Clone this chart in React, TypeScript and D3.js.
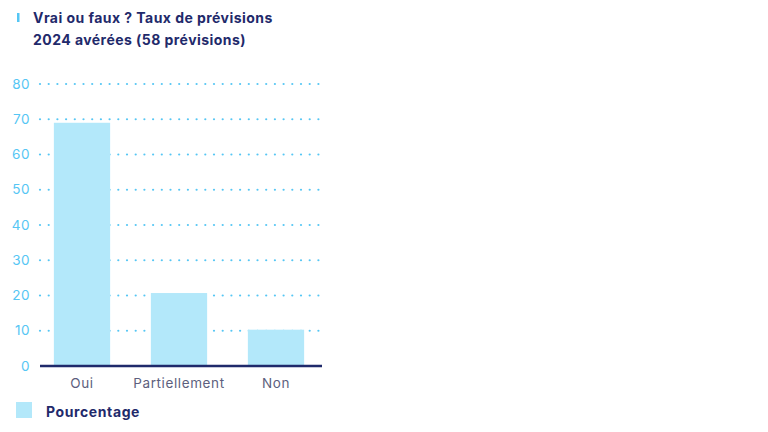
import React from 'react';
import * as d3 from 'd3';

const categories = ['Oui', 'Partiellement', 'Non'];
const values = [69, 20.7, 10.3];
const yTicks = [0, 10, 20, 30, 40, 50, 60, 70, 80];
const titleLines = ['Vrai ou faux ? Taux de prévisions', '2024 avérées (58 prévisions)'];
const seriesName = 'Pourcentage';

const navy = '#1f2a6b';
const barColor = '#b3e8fa';
const tickColor = '#55c6f4';
const font = 'Inter, "Open Sans", sans-serif';

const App: React.FC = () => {
  const width = 768;
  const height = 432;
  const plot = { left: 40, right: 322, top: 84, bottom: 366 };

  const x = d3.scaleBand()
    .domain(categories)
    .range([33.5, 324.5])
    .paddingInner(0.42)
    .paddingOuter(0.21);

  const y = d3.scaleLinear().domain([0, 80]).range([plot.bottom, plot.top]);

  // dotted grid: one dot every ~8.7px
  const dots = d3.range(plot.left, plot.right + 1, 8.7);

  return (
    <svg width={width} height={height} style={{ position: 'absolute', left: 0, top: 0, background: '#fff' }}>
      <rect x={17} y={13} width={2.5} height={9} fill={tickColor} />
      {titleLines.map((t, i) => (
        <text key={t} x={33} y={23 + i * 22} fill={navy} fontFamily={font} fontWeight={700} fontSize={14} letterSpacing={0.45}>
          {t}
        </text>
      ))}

      {yTicks.map(t => (
        <g key={t}>
          <text x={30} y={y(t)} dy="0.35em" textAnchor="end" fill={tickColor} fontFamily={font} fontSize={13.5} letterSpacing={0.5}>
            {t}
          </text>
          {t > 0 && dots.map(dx => (
            <circle key={dx} cx={dx} cy={y(t)} r={1.1} fill={tickColor} />
          ))}
        </g>
      ))}

      {categories.map((c, i) => (
        <rect
          key={c}
          x={x(c)}
          y={y(values[i])}
          width={x.bandwidth()}
          height={y(0) - y(values[i])}
          fill={barColor}
        />
      ))}

      <line x1={plot.left} x2={plot.right} y1={y(0)} y2={y(0)} stroke={navy} strokeWidth={2.5} />

      {categories.map(c => (
        <text
          key={c}
          x={(x(c) || 0) + x.bandwidth() / 2}
          y={388}
          textAnchor="middle"
          fill="#5d5f7e"
          fontFamily={font}
          fontSize={13.5}
          letterSpacing={0.6}
        >
          {c}
        </text>
      ))}

      <rect x={16} y={402} width={16} height={16} fill={barColor} />
      <text x={46} y={417} fill={navy} fontFamily={font} fontWeight={700} fontSize={14} letterSpacing={0.6}>
        {seriesName}
      </text>
    </svg>
  );
};

export default App;
